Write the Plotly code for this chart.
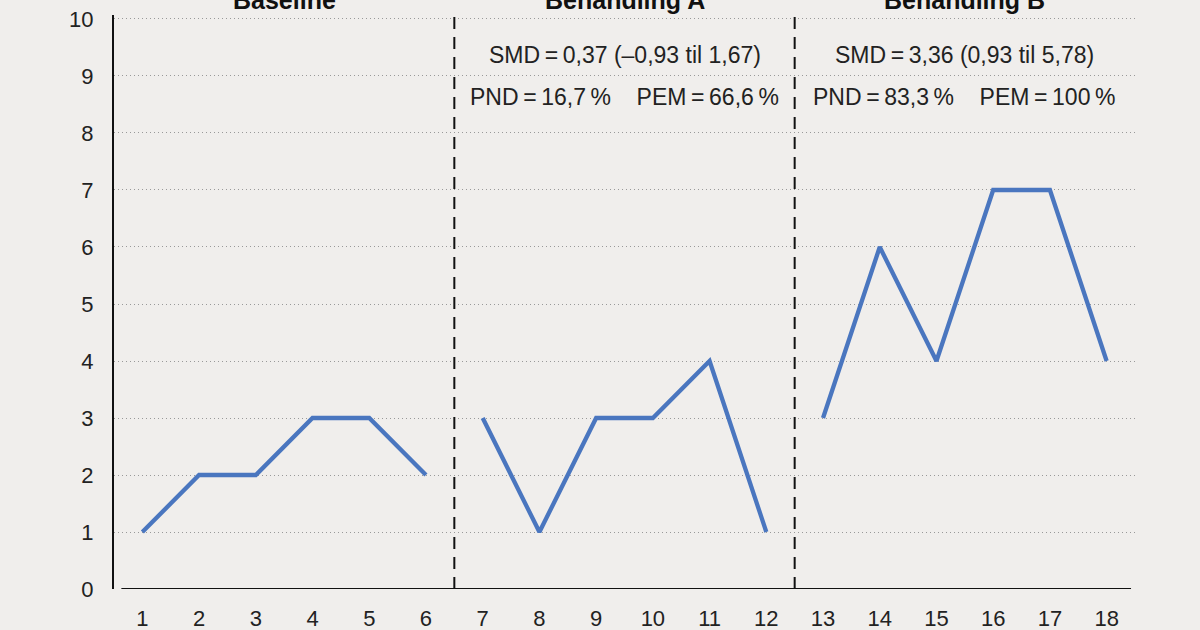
import plotly.graph_objects as go

phases = ["Baseline", "Behandling A", "Behandling B"]
x_base = [1, 2, 3, 4, 5, 6]
y_base = [1, 2, 2, 3, 3, 2]
x_a = [7, 8, 9, 10, 11, 12]
y_a = [3, 1, 3, 3, 4, 1]
x_b = [13, 14, 15, 16, 17, 18]
y_b = [3, 6, 4, 7, 7, 4]
phase_lines = [6.5, 12.5]
phase_centers = [3.5, 9.5, 15.5]
stats_a = ["SMD\u2009=\u20090,37 (\u20130,93 til 1,67)", "PND\u2009=\u200916,7\u2009%    PEM\u2009=\u200966,6\u2009%"]
stats_b = ["SMD\u2009=\u20093,36 (0,93 til 5,78)", "PND\u2009=\u200983,3\u2009%    PEM\u2009=\u2009100\u2009%"]

BLUE = "#4a76bf"
BG = "#f0eeec"
FONT = "Liberation Sans"

fig = go.Figure()
for xs, ys in [(x_base, y_base), (x_a, y_a), (x_b, y_b)]:
    fig.add_trace(go.Scatter(x=xs, y=ys, mode="lines",
                             line=dict(color=BLUE, width=4.3), showlegend=False,
                             hoverinfo="skip"))

for xv in phase_lines:
    fig.add_shape(type="line", xref="x", yref="paper", x0=xv, x1=xv, y0=0, y1=1.0,
                  line=dict(color="#111", width=2, dash="12px,8px"))

# x axis baseline (inset from y axis)
fig.add_shape(type="line", xref="x", yref="y", x0=0.63, x1=18.43, y0=0, y1=0,
              line=dict(color="#111", width=2))

for name, cx in zip(phases, phase_centers):
    fig.add_annotation(x=cx, xref="x", y=1.026, yref="paper", text="<b>%s</b>" % name,
                       showarrow=False, yanchor="middle",
                       font=dict(family=FONT, size=25, color="#111"))

for cx, lines in [(phase_centers[1], stats_a), (phase_centers[2], stats_b)]:
    fig.add_annotation(x=cx, xref="x", y=9.36, yref="y", text=lines[0], showarrow=False,
                       yanchor="middle", font=dict(family=FONT, size=23, color="#222"))
    fig.add_annotation(x=cx, xref="x", y=8.64, yref="y", text=lines[1], showarrow=False,
                       yanchor="middle", font=dict(family=FONT, size=23, color="#222"))

fig.update_xaxes(range=[0.5, 18.5], tickmode="array", tickvals=list(range(1, 19)),
                 ticktext=[str(i) for i in range(1, 19)], showgrid=False, zeroline=False,
                 showline=False, ticks="", ticklabelstandoff=14, automargin=False,
                 tickfont=dict(family=FONT, size=22, color="#222"))
fig.update_yaxes(range=[0, 10.07], tickmode="array", tickvals=list(range(0, 11)),
                 showgrid=True, gridcolor="#999", griddash="1px,3px", gridwidth=1,
                 zeroline=False, showline=True, linecolor="#111", linewidth=2,
                 ticks="", ticklabelstandoff=14, automargin=False,
                 tickfont=dict(family=FONT, size=22, color="#222"))

fig.update_layout(width=1200, height=630, margin=dict(l=114, r=65, t=15, b=41),
                  paper_bgcolor=BG, plot_bgcolor=BG)

fig.write_html("out.html")
